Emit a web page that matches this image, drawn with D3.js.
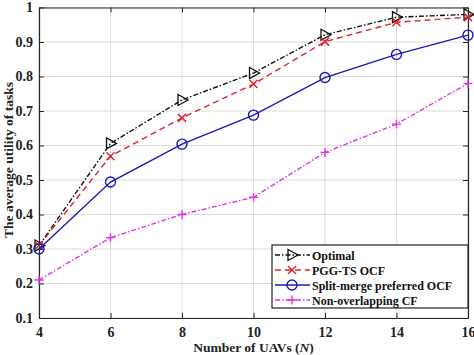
<!DOCTYPE html>
<html><head><meta charset="utf-8">
<script src="https://cdn.jsdelivr.net/npm/d3@7"></script>
<style>body{margin:0;background:#fff}svg{display:block}</style>
</head><body>
<svg id="c" width="474" height="355"></svg>
<script>
const xVals = [4, 6, 8, 10, 12, 14, 16];
const optimal = [0.31, 0.606, 0.732, 0.81, 0.921, 0.972, 0.98];
const pggts = [0.31, 0.569, 0.68, 0.778, 0.901, 0.957, 0.972];
const splitMerge = [0.30, 0.494, 0.604, 0.688, 0.797, 0.864, 0.92];
const nonOverlap = [0.21, 0.333, 0.40, 0.45, 0.58, 0.662, 0.78];
const xTicks = [4, 6, 8, 10, 12, 14, 16];
const yTicks = [0.1, 0.2, 0.3, 0.4, 0.5, 0.6, 0.7, 0.8, 0.9, 1];
const seriesNames = ["Optimal", "PGG-TS OCF", "Split-merge preferred OCF", "Non-overlapping CF"];

const svg = d3.select("#c");
const L = 39, R = 468, T = 7.5, B = 318;
const x = d3.scaleLinear().domain([4, 16]).range([L, R]);
const y = d3.scaleLinear().domain([0.1, 1]).range([B, T]);
const font = "'Liberation Serif','Times New Roman',serif";

// grid
const g = svg.append("g");
g.selectAll(".gx").data(xTicks).join("line")
  .attr("x1", d => x(d)).attr("x2", d => x(d)).attr("y1", T).attr("y2", B)
  .attr("stroke", "#dcdcdc").attr("stroke-width", 1);
g.selectAll(".gy").data(yTicks).join("line")
  .attr("y1", d => y(d)).attr("y2", d => y(d)).attr("x1", L).attr("x2", R)
  .attr("stroke", "#dcdcdc").attr("stroke-width", 1);

// axes
const ax = d3.axisBottom(x).tickValues(xTicks).tickSizeInner(-5).tickSizeOuter(0).tickPadding(9);
const ay = d3.axisLeft(y).tickValues(yTicks).tickSizeInner(-5).tickSizeOuter(0).tickPadding(6).tickFormat(d => d === 1 ? "1" : d3.format(".1f")(d));
const axT = d3.axisTop(x).tickValues(xTicks).tickSizeInner(-5).tickSizeOuter(0).tickFormat("");
const ayR = d3.axisRight(y).tickValues(yTicks).tickSizeInner(-5).tickSizeOuter(0).tickFormat("");
function style(sel){
  sel.selectAll("path").attr("stroke", "#262626").attr("stroke-width", 1.2);
  sel.selectAll("line").attr("stroke", "#262626");
  sel.selectAll("text").attr("font-family", font).attr("font-weight", "bold").attr("font-size", 14).attr("fill", "#222");
}
svg.append("g").attr("transform", `translate(0,${B})`).call(ax).call(style);
svg.append("g").attr("transform", `translate(${L},0)`).call(ay).call(style);
svg.append("g").attr("transform", `translate(0,${T})`).call(axT).call(style);
svg.append("g").attr("transform", `translate(${R},0)`).call(ayR).call(style);

// series
const series = [
  {name: seriesNames[0], vals: optimal, color: "#111", dash: "5,2,1.5,2", marker: "tri"},
  {name: seriesNames[1], vals: pggts, color: "#dc2430", dash: "6,4", marker: "x"},
  {name: seriesNames[2], vals: splitMerge, color: "#1a1ab8", dash: null, marker: "circle"},
  {name: seriesNames[3], vals: nonOverlap, color: "#e036e0", dash: "5,2,1.5,2", marker: "plus"}
];
const line = d3.line().x((d, i) => x(xVals[i])).y(d => y(d));

function marker(sel, type, color, cx, cy){
  const m = sel.append("g").attr("transform", `translate(${cx},${cy})`);
  if (type === "tri") m.append("path").attr("d", "M-4,-5.5L6,0L-4,5.5Z").attr("fill", "none").attr("stroke", color).attr("stroke-width", 1.3);
  else if (type === "x") m.append("path").attr("d", "M-4,-4L4,4M-4,4L4,-4").attr("stroke", color).attr("stroke-width", 1.5);
  else if (type === "circle") m.append("circle").attr("r", 5).attr("fill", "none").attr("stroke", color).attr("stroke-width", 1.4);
  else if (type === "plus") m.append("path").attr("d", "M-4.5,0L4.5,0M0,-4.5L0,4.5").attr("stroke", color).attr("stroke-width", 1.4);
}

const sg = svg.append("g");
series.forEach(s => {
  sg.append("path").datum(s.vals).attr("d", line).attr("fill", "none")
    .attr("stroke", s.color).attr("stroke-width", 1.4).attr("stroke-dasharray", s.dash);
  s.vals.forEach((v, i) => marker(sg, s.marker, s.color, x(xVals[i]), y(v)));
});

// legend
const lg = svg.append("g");
const lx = 272, ly = 245, lw = R - lx, lh = 63;
lg.append("rect").attr("x", lx).attr("y", ly).attr("width", lw).attr("height", lh)
  .attr("fill", "#fff").attr("stroke", "#222").attr("stroke-width", 1.2);
series.forEach((s, i) => {
  const yy = ly + 10 + i * 15;
  lg.append("line").attr("x1", lx + 3).attr("x2", lx + 38).attr("y1", yy).attr("y2", yy)
    .attr("stroke", s.color).attr("stroke-width", 1.4).attr("stroke-dasharray", s.dash);
  marker(lg, s.marker, s.color, lx + 20, yy);
  const t = lg.append("text").attr("x", lx + 40).attr("y", yy + 4.5).text(s.name)
    .attr("font-family", font).attr("font-weight", "bold").attr("font-size", 12).attr("fill", "#111");
  const w = t.node().getComputedTextLength();
  t.attr("font-size", 13).attr("textLength", w).attr("lengthAdjust", "spacingAndGlyphs");
});

// axis labels
const xl = svg.append("text").attr("x", (L + R) / 2).attr("y", 352).attr("text-anchor", "middle")
  .attr("font-family", font).attr("font-weight", "bold").attr("font-size", 13.5).attr("fill", "#222");
xl.append("tspan").text("Number of UAVs (");
xl.append("tspan").attr("font-style", "italic").text("N");
xl.append("tspan").text(")");
svg.append("text").attr("transform", `translate(12.5,160) rotate(-90)`).attr("text-anchor", "middle")
  .attr("font-family", font).attr("font-weight", "bold").attr("font-size", 13.5).attr("fill", "#222")
  .text("The average utility of tasks");
</script>
</body></html>
